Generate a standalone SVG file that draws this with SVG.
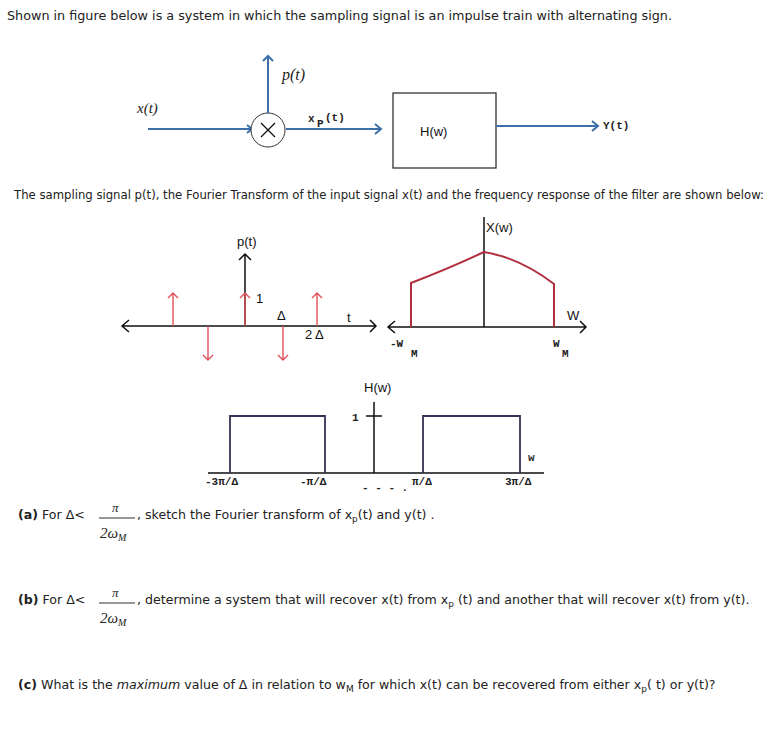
<svg xmlns="http://www.w3.org/2000/svg" width="779" height="729" viewBox="0 0 779 729">
<style>
.t{font-family:"DejaVu Sans",Verdana,sans-serif;font-size:12px;fill:#222}
.q{font-family:"DejaVu Sans",Verdana,sans-serif;font-size:12.6px;fill:#222}
.a{font-family:"Liberation Sans",Arial,sans-serif;font-size:13px;fill:#111}
.m{font-family:"Liberation Serif",serif;font-style:italic;fill:#222}
.mono{font-family:"Liberation Mono",monospace;font-weight:bold;font-size:11px;fill:#222}
.bl{stroke:#3d6fa8;stroke-width:2;fill:none}
.k{stroke:#111;stroke-width:1.5;fill:none}
.r{stroke:#e0505a;stroke-width:1.4;fill:none}
.dr{stroke:#b03040;stroke-width:2;fill:none}
.nv{stroke:#333355;stroke-width:1.8;fill:none}
</style>
<rect width="779" height="729" fill="#fff"/>
<text class="t" x="7" y="20" textLength="665" lengthAdjust="spacingAndGlyphs">Shown in figure below is a system in which the sampling signal is an impulse train with alternating sign.</text>
<g id="block">
<path class="bl" d="M148 129H252M247 125l5 4-5 4"/>
<circle cx="268" cy="130" r="17" fill="#fff" stroke="#333" stroke-width="1"/>
<path d="M261 123l14 14M275 123l-14 14" stroke="#111" stroke-width="1.3"/>
<path class="bl" d="M268 113V56M263 61l5-5 5 5"/>
<text class="m" x="282" y="80" font-size="16" font-style="normal">p(t)</text>
<text class="m" x="137" y="113" font-size="15">x(t)</text>
<path class="bl" d="M286 129H381M375 124l6 5-6 5"/>
<text class="mono" x="308" y="122">x</text><text class="mono" x="317" y="127" font-size="8">P</text><text class="mono" x="325" y="121">(t)</text>
<rect x="393" y="93" width="103" height="75" fill="#fff" stroke="#333" stroke-width="1.3"/>
<text class="a" x="420" y="136" font-size="14">H(w)</text>
<path class="bl" d="M496 126H598M592 121l6 5-6 5"/>
<text class="mono" x="603" y="129">Y(t)</text>
</g>
<text class="t" x="14" y="199" textLength="750" lengthAdjust="spacingAndGlyphs">The sampling signal p(t), the Fourier Transform of the input signal x(t) and the frequency response of the filter are shown below:</text>
<g id="pt">
<path class="k" d="M122 326H376M129 320l-7 6 7 6M370 320l6 6-6 6M245 326V254M239 260l6-6 6 6"/>
<path class="r" d="M173 326V293M168 298l5-5 5 5M245 326V293M240 298l5-5 5 5M317 326V293M312 298l5-5 5 5M208 326V360M203 355l5 5 5-5M283 326V360M278 355l5 5 5-5"/>
<text class="a" x="237" y="246" font-size="11">p(t)</text>
<text class="a" x="256" y="303" font-size="12">1</text>
<text class="a" x="277" y="320" font-size="12">Δ</text>
<text class="a" x="305" y="339" font-size="12">2 Δ</text>
<text class="a" x="347" y="322" font-size="12">t</text>
</g>
<g id="xw">
<path class="k" d="M388 327H586M395 321l-7 6 7 6M580 321l6 6-6 6M484 327V217" stroke-width="1.2"/>
<path class="dr" d="M411 327V283Q450 268 484 252Q520 258 554 284V327"/>
<text class="a" x="486" y="232" font-size="18">X(w)</text>
<text class="mono" x="390" y="347" font-size="10">-W</text><text class="mono" x="411" y="357" font-size="8">M</text>
<text class="mono" x="553" y="347" font-size="10">W</text><text class="mono" x="562" y="357" font-size="8">M</text>
<text class="a" x="567" y="320" font-size="11" fill="#444">W</text>
</g>
<g id="hw">
<path class="k" d="M208 473H544M374 473V402M366 416H382" stroke-width="1.2"/>
<path class="nv" d="M230 473V416H325V473M423 473V416H520V473"/>
<text class="a" x="364" y="392" font-size="13">H(w)</text>
<text class="mono" x="352" y="421">1</text>
<text class="mono" x="205" y="485">-3π/Δ</text>
<text class="mono" x="300" y="485">-π/Δ</text>
<text class="mono" x="412" y="485">π/Δ</text>
<text class="mono" x="505" y="485">3π/Δ</text>
<text class="mono" x="528" y="461" font-size="8">w</text>
<text class="mono" x="362" y="491" font-size="6">- - - .</text>
</g>
<g id="questions">
<text class="q" x="18" y="519"><tspan font-weight="bold">(a)</tspan> For Δ&lt;</text>
<text class="m" x="112" y="512" font-size="13">π</text>
<path d="M99 518H135" stroke="#333" stroke-width="1"/>
<text class="m" x="100" y="538" font-size="15">2ω<tspan font-size="10" dy="3">M</tspan></text>
<text class="q" x="137" y="519">, sketch the Fourier transform of x<tspan font-size="9" dy="3">p</tspan><tspan dy="-3">(t) and y(t) .</tspan></text>
<text class="q" x="18" y="604"><tspan font-weight="bold">(b)</tspan> For Δ&lt;</text>
<text class="m" x="112" y="597" font-size="13">π</text>
<path d="M99 603H135" stroke="#333" stroke-width="1"/>
<text class="m" x="100" y="623" font-size="15">2ω<tspan font-size="10" dy="3">M</tspan></text>
<text class="q" x="137" y="604">, determine a system that will recover x(t) from x<tspan font-size="9" dy="3">p</tspan><tspan dy="-3"> (t) and another that will recover x(t) from y(t).</tspan></text>
<text class="q" x="18" y="689"><tspan font-weight="bold">(c)</tspan> What is the <tspan font-style="italic">maximum</tspan> value of Δ in relation to w<tspan font-size="9" dy="3">M</tspan><tspan dy="-3"> for which x(t) can be recovered from either x</tspan><tspan font-size="9" dy="3">p</tspan><tspan dy="-3">( t) or y(t)?</tspan></text>
</g>
</svg>
